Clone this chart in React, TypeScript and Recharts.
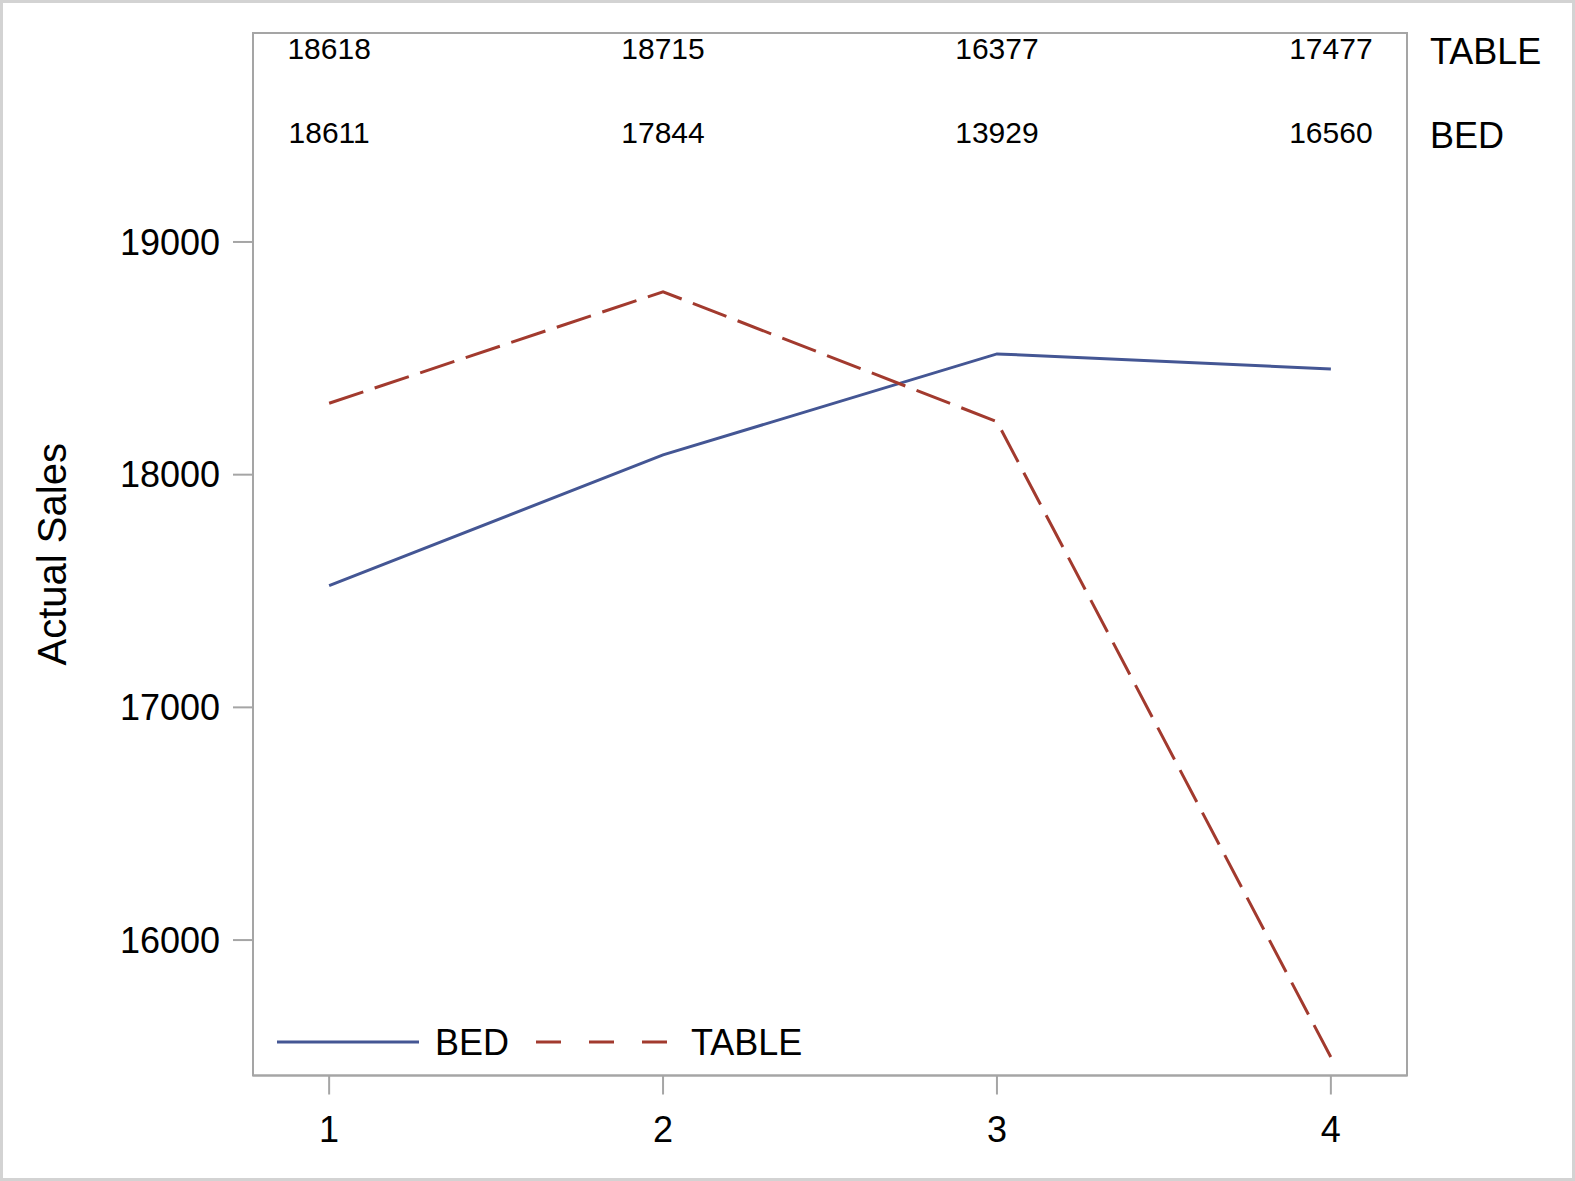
import { LineChart, Line, XAxis, YAxis, ReferenceArea, Legend } from "recharts";

const periods = [1, 2, 3, 4];
const bedSales = [17523, 18085, 18519, 18454];
const tableSales = [18307, 18786, 18228, 15497];
const tableRow = [18618, 18715, 16377, 17477];
const bedRow = [18611, 17844, 13929, 16560];
const yTicks = [16000, 17000, 18000, 19000];
const rowLabels = ["TABLE", "BED"];

const data = periods.map((p, i) => ({ period: p, bed: bedSales[i], table: tableSales[i] }));

const FONT = "'Liberation Sans', Arial, sans-serif";
const FRAME = "#a5a5a5";
const BLUE = "#445694";
const RED = "#a23a2e";
const X_DOMAIN = [0.772, 4.228];
const Y_DOMAIN = [15418, 19898];

// the value rows printed along the top of the plot, placed at each period's x
function TopRows(props: any) {
  const { cx, index } = props;
  return (
    <g key={`row-${index}`}>
      <text x={cx} y={59} textAnchor="middle" fontSize={30} fontFamily={FONT} fill="#000">
        {tableRow[index]}
      </text>
      <text x={cx} y={143} textAnchor="middle" fontSize={30} fontFamily={FONT} fill="#000">
        {bedRow[index]}
      </text>
    </g>
  );
}

function LegendBox() {
  return (
    <svg width={560} height={44} style={{ display: "block" }}>
      <line x1={0} x2={142} y1={20} y2={20} stroke={BLUE} strokeWidth={3} />
      <text x={158} y={33} fontSize={36} fontFamily={FONT} fill="#000">BED</text>
      <line x1={259} x2={390} y1={20} y2={20} stroke={RED} strokeWidth={3} strokeDasharray="25 28" />
      <text x={414} y={33} fontSize={36} fontFamily={FONT} fill="#000">TABLE</text>
    </svg>
  );
}

export default function App() {
  return (
    <div
      style={{
        position: "absolute",
        left: 0,
        top: 0,
        width: 1575,
        height: 1181,
        background: "#fff",
        boxShadow: "inset 0 0 0 3px #d3d3d3",
      }}
    >
      <LineChart
        width={1575}
        height={1181}
        data={data}
        margin={{ top: 33, right: 168, left: 33, bottom: 45.5 }}
      >
        <XAxis
          dataKey="period"
          type="number"
          domain={X_DOMAIN}
          ticks={periods}
          allowDataOverflow
          height={60}
          stroke={FRAME}
          strokeWidth={2}
          tickSize={19}
          tickMargin={22}
          tick={{ fill: "#000", fontSize: 36, fontFamily: FONT }}
        />
        <YAxis
          type="number"
          domain={Y_DOMAIN}
          ticks={yTicks}
          allowDataOverflow
          width={220}
          stroke={FRAME}
          strokeWidth={2}
          tickSize={20}
          tickMargin={13}
          tick={{ fill: "#000", fontSize: 36, fontFamily: FONT }}
          label={{
            value: "Actual Sales",
            angle: -90,
            position: "insideLeft",
            offset: 19,
            style: { textAnchor: "middle", fill: "#000", fontSize: 40, fontFamily: FONT },
          }}
        />
        <ReferenceArea
          x1={X_DOMAIN[0]}
          x2={X_DOMAIN[1]}
          y1={Y_DOMAIN[0]}
          y2={Y_DOMAIN[1]}
          fill="none"
          stroke={FRAME}
          strokeWidth={2}
          ifOverflow="visible"
        />
        <Line
          dataKey="bed"
          name="BED"
          type="linear"
          stroke={BLUE}
          strokeWidth={3}
          dot={(p: any) => <TopRows key={`row-${p.index}`} {...p} />}
          activeDot={false}
          isAnimationActive={false}
        />
        <Line
          dataKey="table"
          name="TABLE"
          type="linear"
          stroke={RED}
          strokeWidth={3}
          strokeDasharray="36 12"
          dot={false}
          isAnimationActive={false}
        />
        <Legend
          layout="horizontal"
          verticalAlign="middle"
          align="center"
          wrapperStyle={{ left: 277, top: 1022, width: 560, height: 44 }}
          content={() => <LegendBox />}
        />
      </LineChart>
      <svg
        width={160}
        height={170}
        style={{ position: "absolute", left: 1420, top: 0, pointerEvents: "none" }}
      >
        {rowLabels.map((label, i) => (
          <text key={label} x={10} y={64 + i * 84} fontSize={36} fontFamily={FONT} fill="#000">
            {label}
          </text>
        ))}
      </svg>
    </div>
  );
}
